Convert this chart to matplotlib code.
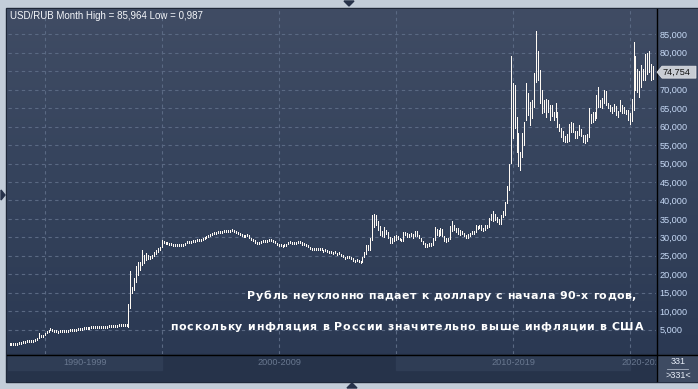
import numpy as np
import matplotlib
matplotlib.use("Agg")
import matplotlib.pyplot as plt
from matplotlib.patches import Rectangle, Polygon
from matplotlib.colors import LinearSegmentedColormap
from matplotlib.transforms import blended_transform_factory
from matplotlib.font_manager import FontProperties

# ---------------- data (monthly USD/RUB, Jul 1993 .. Jan 2021) ----------------
start_year, start_month = 1993, 7
high = [
    # 1993 (Jul-Dec)
    1.03, 1.00, 1.20, 1.19, 1.21, 1.25,
    # 1994
    1.61, 1.66, 1.75, 1.80, 1.90, 1.99, 2.05, 2.15, 2.60, 3.93, 3.24, 3.55,
    # 1995
    4.00, 4.41, 4.90, 5.13, 5.06, 4.90, 4.56, 4.45, 4.50, 4.51, 4.57, 4.65,
    # 1996
    4.74, 4.84, 4.87, 4.95, 5.02, 5.12, 5.21, 5.35, 5.40, 5.45, 5.50, 5.56,
    # 1997
    5.63, 5.68, 5.73, 5.76, 5.79, 5.79, 5.79, 5.80, 5.85, 5.88, 5.93, 5.96,
    # 1998
    6.02, 6.09, 6.13, 6.14, 6.18, 6.20, 6.24, 11.9, 20.8, 16.6, 18.9, 22.1,
    # 1999
    23.4, 23.4, 26.6, 25.2, 25.8, 25.2, 24.8, 25.3, 26.0, 26.6, 27.0, 27.5,
    # 2000
    29.3, 28.9, 28.7, 28.7, 28.5, 28.3, 28.0, 27.9, 27.9, 27.9, 27.9, 28.2,
    # 2001
    28.4, 28.8, 28.7, 28.8, 29.0, 29.1, 29.2, 29.3, 29.4, 29.6, 29.8, 30.2,
    # 2002
    30.6, 30.9, 31.1, 31.2, 31.3, 31.5, 31.5, 31.6, 31.7, 31.8, 31.9, 31.9,
    # 2003
    31.9, 31.9, 31.5, 31.3, 31.0, 30.8, 30.4, 30.6, 30.7, 30.6, 29.9, 29.5,
    # 2004
    29.3, 28.6, 28.6, 28.9, 29.1, 29.1, 29.2, 29.3, 29.3, 29.2, 28.8, 28.5,
    # 2005
    28.1, 28.1, 28.0, 28.0, 28.2, 28.7, 28.8, 28.7, 28.6, 28.7, 28.8, 28.8,
    # 2006
    28.8, 28.2, 28.2, 27.9, 27.3, 27.1, 27.0, 26.9, 26.9, 26.9, 26.9, 26.5,
    # 2007
    26.6, 26.5, 26.2, 26.0, 25.9, 26.0, 25.7, 25.9, 25.6, 25.0, 24.7, 24.7,
    # 2008
    24.9, 24.6, 24.4, 23.8, 24.0, 23.8, 23.5, 24.6, 26.0, 27.8, 27.9, 29.8,
    # 2009
    36.0, 36.4, 36.0, 34.5, 33.0, 31.7, 32.9, 32.0, 31.5, 30.2, 29.7, 30.4,
    # 2010
    30.5, 30.4, 29.9, 29.5, 31.5, 31.5, 31.2, 31.0, 31.2, 31.0, 31.6, 31.6,
    # 2011
    30.6, 29.7, 28.9, 28.4, 28.2, 28.4, 28.5, 29.8, 32.8, 32.3, 31.9, 32.5,
    # 2012
    32.2, 30.4, 29.8, 29.9, 33.1, 34.3, 33.3, 32.6, 32.5, 31.9, 31.8, 31.1,
    # 2013
    30.6, 30.8, 31.2, 31.8, 31.7, 33.2, 33.0, 33.4, 33.3, 32.5, 33.3, 33.3,
    # 2014
    35.2, 36.3, 37.0, 36.3, 35.5, 35.0, 36.1, 37.0, 39.5, 43.9, 50.0, 79.1,
    # 2015
    71.7, 71.3, 62.7, 58.4, 53.2, 58.2, 61.3, 71.7, 69.0, 66.7, 67.2, 74.4,
    # 2016
    85.964, 80.5, 75.4, 69.9, 67.2, 67.6, 67.2, 65.8, 65.8, 64.0, 66.3, 64.0,
    # 2017
    60.8, 59.7, 58.8, 57.5, 58.0, 60.8, 61.2, 61.1, 58.9, 58.8, 60.4, 59.4,
    # 2018
    57.8, 57.8, 58.0, 65.1, 63.4, 63.9, 64.0, 68.6, 70.8, 67.1, 67.7, 70.0,
    # 2019
    69.6, 66.5, 65.9, 65.4, 66.0, 65.5, 64.3, 67.1, 65.9, 65.3, 64.5, 64.6,
    # 2020
    63.8, 67.6, 82.9, 79.2, 75.6, 75.0, 76.6, 75.6, 79.7, 79.9, 80.5, 76.9,
    # 2021 (Jan)
    76.3,
]
low = [
    # 1993 (Jul-Dec)
    0.987, 0.99, 1.00, 1.17, 1.18, 1.20,
    # 1994
    1.25, 1.54, 1.66, 1.75, 1.82, 1.90, 2.00, 2.06, 2.16, 2.63, 3.02, 3.20,
    # 1995
    3.56, 4.00, 4.41, 4.90, 4.84, 4.54, 4.40, 4.40, 4.45, 4.49, 4.50, 4.57,
    # 1996
    4.65, 4.74, 4.83, 4.87, 4.95, 5.02, 5.12, 5.21, 5.35, 5.40, 5.45, 5.50,
    # 1997
    5.56, 5.63, 5.68, 5.73, 5.76, 5.77, 5.78, 5.78, 5.80, 5.85, 5.88, 5.92,
    # 1998
    5.96, 6.02, 6.08, 6.11, 6.13, 6.17, 6.19, 5.80, 10.8, 15.0, 15.7, 18.0,
    # 1999
    19.8, 21.1, 22.5, 22.9, 23.9, 24.1, 24.2, 24.4, 24.8, 25.5, 26.0, 26.6,
    # 2000
    27.4, 28.4, 28.4, 28.4, 28.1, 27.9, 27.8, 27.7, 27.7, 27.8, 27.8, 27.8,
    # 2001
    28.1, 28.5, 28.6, 28.6, 28.8, 29.0, 29.1, 29.2, 29.2, 29.4, 29.6, 29.8,
    # 2002
    30.1, 30.5, 30.9, 31.0, 31.1, 31.2, 31.4, 31.4, 31.5, 31.6, 31.7, 31.7,
    # 2003
    31.8, 31.4, 31.3, 31.0, 30.8, 30.4, 30.3, 30.3, 30.5, 29.7, 29.3, 29.2,
    # 2004
    28.5, 28.5, 28.5, 28.5, 28.9, 29.0, 29.0, 29.2, 29.1, 28.8, 28.5, 27.8,
    # 2005
    27.7, 27.8, 27.5, 27.7, 27.8, 28.4, 28.6, 28.4, 28.2, 28.4, 28.6, 28.6,
    # 2006
    28.0, 28.0, 27.7, 27.5, 27.0, 26.8, 26.8, 26.7, 26.7, 26.7, 26.5, 26.3,
    # 2007
    26.4, 26.1, 26.0, 25.8, 25.8, 25.8, 25.4, 25.4, 24.9, 24.7, 24.3, 24.4,
    # 2008
    24.3, 24.3, 23.5, 23.4, 23.6, 23.4, 23.1, 23.4, 24.6, 25.4, 26.5, 26.6,
    # 2009
    29.3, 32.9, 33.4, 32.0, 30.6, 30.3, 30.2, 30.9, 29.8, 28.4, 28.4, 29.0,
    # 2010
    29.4, 29.6, 29.2, 28.9, 29.0, 30.5, 30.0, 30.0, 30.3, 29.8, 30.3, 30.3,
    # 2011
    29.8, 28.9, 28.1, 27.3, 27.3, 27.7, 27.7, 28.0, 29.2, 30.6, 30.3, 30.7,
    # 2012
    30.4, 28.9, 28.6, 29.0, 29.5, 31.8, 31.9, 31.5, 30.8, 30.7, 30.9, 30.4,
    # 2013
    29.8, 29.9, 30.4, 30.8, 31.0, 31.4, 32.2, 32.6, 31.9, 31.7, 32.0, 32.4,
    # 2014
    32.7, 34.7, 34.5, 34.6, 34.2, 33.6, 33.6, 35.6, 36.0, 39.3, 42.8, 50.1,
    # 2015
    56.8, 59.5, 53.2, 49.2, 48.2, 51.8, 55.0, 61.8, 63.2, 60.4, 62.2, 65.4,
    # 2016
    72.2, 72.6, 66.3, 63.6, 64.0, 62.7, 64.0, 61.8, 63.0, 61.8, 62.7, 60.0,
    # 2017
    58.7, 57.3, 56.1, 55.7, 55.9, 56.2, 58.6, 58.6, 57.0, 57.0, 57.6, 57.5,
    # 2018
    55.9, 55.5, 56.2, 57.3, 61.0, 61.3, 61.9, 62.3, 65.3, 65.2, 65.1, 66.3,
    # 2019
    65.8, 65.1, 64.1, 63.7, 64.1, 63.2, 62.5, 64.1, 63.6, 63.6, 63.4, 61.8,
    # 2020
    60.8, 61.6, 64.5, 69.9, 69.5, 68.0, 70.8, 72.5, 72.5, 74.3, 74.8, 72.5,
    # 2021 (Jan)
    72.8,
]
last_close = 74.754

decade_labels = ["1990-1999", "2000-2009", "2010-2019", "2020-2029"]
decade_starts = [1990, 2000, 2010, 2020]
grid_years = [1995, 2000, 2005, 2010, 2015, 2020]
ytick_values = list(range(5, 90, 5))
title = "USD/RUB Month High = 85,964 Low = 0,987"
note_1 = "Рубль неуклонно падает к доллару с начала 90-х годов,"
note_2 = "поскольку инфляция в России значительно выше инфляции в США"


def ru_num(v):
    return f"{v:,.3f}".replace(".", "#").replace(",", " ").replace("#", ",")


def month_index(year, month=1):
    return (year - start_year) * 12 + (month - start_month)


# ---------------- layout (pixels) ----------------
W, H = 698, 389
PL, PR, PT, PB = 8, 656, 9, 354        # plot area
AX_B = 381                              # bottom of x-axis strip
n = len(high)
xs = np.arange(n)

fig = plt.figure(figsize=(W / 100, H / 100), dpi=100)
fig.patch.set_facecolor("#c3cdd9")

bg = fig.add_axes([0, 0, 1, 1])
bg.set_xlim(0, W)
bg.set_ylim(H, 0)
bg.axis("off")

# outer frame + panel
bg.add_patch(Rectangle((6, 8), W - 6, AX_B - 8 + 1, color="#1e2738", zorder=0.5))
grad = LinearSegmentedColormap.from_list("g", ["#404c64", "#35435c", "#2b3953"])
bg.imshow(np.linspace(0, 1, 200)[:, None], cmap=grad, aspect="auto",
          extent=(7, W, PB, 9), origin="upper", zorder=1)
bg.add_patch(Rectangle((7, PB), W - 7, AX_B - PB, color="#26334a", zorder=1))

# small navigation triangles on the frame
bg.add_patch(Polygon([(344, 1), (354, 1), (349, 6)], color="#27324a", zorder=2))
bg.add_patch(Polygon([(347, 388), (357, 388), (352, 383)], color="#27324a", zorder=2))
bg.add_patch(Polygon([(1, 190), (1, 200), (5, 195)], color="#27324a", zorder=2))

# ---------------- main data axes ----------------
ax = fig.add_axes([PL / W, (H - PB) / H, (PR - PL) / W, (PB - PT) / H])
ax.patch.set_alpha(0)
px_per_month = 1.95
x0 = -(9.5 - PL) / px_per_month
x1 = x0 + (PR - PL) / px_per_month
ax.set_xlim(x0, x1)
px_per_unit = 3.69
y0 = -(PB - 348) / px_per_unit
y1 = y0 + (PB - PT) / px_per_unit
ax.set_ylim(y0, y1)
for s in ax.spines.values():
    s.set_visible(False)
ax.set_xticks([])

ax.yaxis.tick_right()
ax.set_yticks(ytick_values)
# the 75,000 label is hidden behind the last-value marker in the reference
ax.set_yticklabels(["" if abs(v - last_close) < 2.5 else ru_num(v) for v in ytick_values])
ax.tick_params(axis="y", length=0, pad=2.5, labelsize=6.6, labelcolor="#c6d9f5")
for lab in ax.get_yticklabels():
    lab.set_family("Liberation Sans")

grid_kw = dict(color="#5a6983", lw=0.8, linestyles=(0, (3, 3)), zorder=1)
ax.hlines(ytick_values, x0, x1, **grid_kw)
ax.vlines([month_index(y) + 0.2 for y in grid_years], y0, y1, **grid_kw)

# high-low bars; very narrow ranges are drawn with a minimum visible height (~2 px)
hi_arr, lo_arr = np.array(high), np.array(low)
mid = (hi_arr + lo_arr) / 2
min_half = 1.0 / px_per_unit
ax.vlines(xs, np.minimum(lo_arr, mid - min_half), np.maximum(hi_arr, mid + min_half),
          color="#fffaf4", lw=0.55, antialiased=False, zorder=3)

# ---------------- x-axis decade bands ----------------
axb = fig.add_axes([PL / W, (H - AX_B) / H, (PR - PL) / W, (AX_B - PB - 1) / H])
axb.set_xlim(x0, x1)
axb.set_ylim(1, 0)
axb.axis("off")
for k, (lab, ys) in enumerate(zip(decade_labels, decade_starts)):
    a = max(month_index(ys) + 0.2, x0)
    b = min(month_index(ys + 10) + 0.2, x1)
    if k % 2 == 0:
        axb.add_patch(Rectangle((a, 0), b - a, 0.56, color="#2f3d55", zorder=1))
    axb.text((a + b) / 2, 0.3, lab, color="#68778f", fontsize=6.6,
             family="Liberation Sans", ha="center", va="center", clip_on=True, zorder=2)

# ---------------- overlay (separators, boxes, texts) ----------------
ov = fig.add_axes([0, 0, 1, 1])
ov.set_xlim(0, W)
ov.set_ylim(H, 0)
ov.axis("off")
ov.plot([PR + 0.5, PR + 0.5], [9, AX_B], color="#000000", lw=1.0, zorder=5)
ov.plot([7, W], [PB + 0.5, PB + 0.5], color="#000000", lw=1.0, zorder=5)
ov.add_patch(Rectangle((PR + 1, PB + 1), W - PR - 1, AX_B - PB - 1, color="#3e4b62", zorder=2))
ov.text((PR + W) / 2 + 1, 362, str(n), color="#e8eef8", fontsize=6.5,
        family="Liberation Sans", ha="center", va="center", zorder=6)
ov.plot([667, 688], [368.5, 368.5], color="#aab4c4", lw=0.6, zorder=6)
ov.text((PR + W) / 2 + 1, 375, f">{n}<", color="#e8eef8", fontsize=6.5,
        family="Liberation Sans", ha="center", va="center", zorder=6)

# last value marker (y position through the data axis)
tb = blended_transform_factory(ov.transData, ax.transData)
hu = 6.0 / px_per_unit
yl = last_close
ov.add_patch(Polygon([(PR + 1, yl), (PR + 6, yl + hu), (W - 2, yl + hu), (W - 2, yl - hu),
                      (PR + 6, yl - hu)], closed=True, facecolor="#c8ccd3",
                     edgecolor="#e6e8ec", lw=0.5, transform=tb, zorder=7))
ov.text(PR + 6.5, yl, ru_num(last_close), transform=tb, color="#101010", fontsize=6.6,
        family="Liberation Sans", ha="left", va="center", zorder=8)

ov.text(10, 15.5, title, color="#f4f6fa", fontsize=7.0, family="Liberation Sans",
        ha="left", va="center", zorder=6)

# annotation lines: letter-spaced bold text fitted to the reference extents
fig.canvas.draw()
r = fig.canvas.get_renderer()
base = FontProperties(family="DejaVu Sans", weight="bold", size=10)


def tw(s, fp):
    return r.get_text_width_height_descent(s, fp, ismath=False)[0]


lines = [(note_1, 247.5, 636.0, 299.0), (note_2, 170.0, 643.0, 330.0)]
w1, w2 = tw(note_1, base), tw(note_2, base)
t1, t2 = 636.0 - 247.5, 643.0 - 170.0
n1, n2 = len(note_1) - 1, len(note_2) - 1
A = np.array([[w1, n1], [w2, n2]])
scale, spacing = np.linalg.solve(A, np.array([t1, t2]))
if spacing < 0.4 or scale * 10 < 7.5:
    spacing = 0.6
    scale = np.mean([(t1 - spacing * n1) / w1, (t2 - spacing * n2) / w2])
fp = FontProperties(family="DejaVu Sans", weight="bold", size=10 * scale)
for txt, xs0, xe, yb in lines:
    sp = (xe - xs0 - tw(txt, fp)) / (len(txt) - 1)
    for j, ch in enumerate(txt):
        if ch == " ":
            continue
        xj = xs0 + (tw(txt[:j], fp) if j else 0.0) + sp * j
        ov.text(xj, yb, ch, color="#ffffff", fontproperties=fp,
                ha="left", va="baseline", zorder=6)

fig.savefig("out.png", dpi=100, facecolor=fig.get_facecolor())
